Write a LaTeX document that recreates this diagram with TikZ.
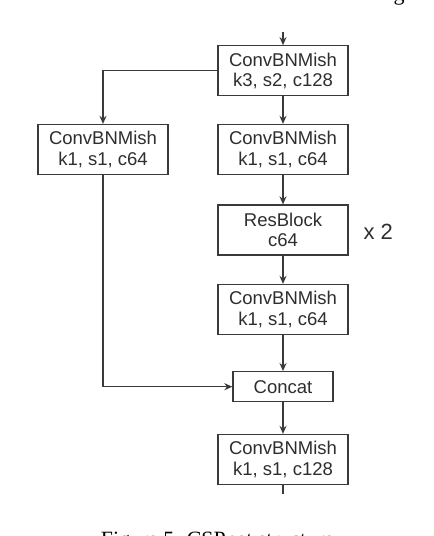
\documentclass[tikz,border=0pt]{standalone}
\usepackage{fontspec}
\setmainfont{Liberation Sans}
\newfontfamily\capfont{Liberation Serif}
\usetikzlibrary{arrows.meta}
\definecolor{lc}{HTML}{3A3A3A}
\definecolor{tc}{HTML}{2E2E2E}
\begin{document}
\begin{tikzpicture}[x=1pt,y=-1pt,
  blk/.style={draw=lc,line width=1.3pt,rectangle,minimum width=130pt,minimum height=50pt,inner sep=0pt,align=center,text=tc,font=\fontsize{18.5}{20.5}\selectfont},
  cblk/.style={blk,minimum width=100pt,minimum height=30pt},
  conn/.style={draw=lc,line width=1.3pt,-{Stealth[length=8pt,width=7pt]}},
  plain/.style={draw=lc,line width=1.3pt}]
\clip (0,0) rectangle (434,536);
\useasboundingbox (0,0) rectangle (434,536);
\fill[white] (0,0) rectangle (434,536);
\node[text=black,font=\capfont\fontsize{22}{24}\selectfont,anchor=base] (gtop) at (399,0) {g};
\coordinate (in) at (283,32);
\node[blk] (b1) at (283,70.8) {ConvBNMish\\k3, s2, c128};
\node[blk] (bl) at (103,149.5) {ConvBNMish\\k1, s1, c64};
\node[blk] (b2) at (283,149.5) {ConvBNMish\\k1, s1, c64};
\node[blk] (rb) at (283,230) {ResBlock\\c64};
\node[text=tc,font=\fontsize{22}{24}\selectfont,anchor=west] (x2) at (360,231.5) {x 2};
\node[blk] (b4) at (283,309.5) {ConvBNMish\\k1, s1, c64};
\node[cblk] (cc) at (283,386.7) {Concat};
\node[blk] (b6) at (283,459.5) {ConvBNMish\\k1, s1, c128};
\coordinate (out) at (283,494);
\node[font=\capfont\fontsize{21.8}{24}\selectfont,anchor=base,text=black] (cap) at (217.5,546) {Figure 5. CSPnet structure};
\draw[conn] (in) -- (b1.north);
\draw[conn] (b1.west) -| (bl.north);
\draw[conn] (b1) -- (b2);
\draw[conn] (b2) -- (rb);
\draw[conn] (rb) -- (b4);
\draw[conn] (b4) -- (cc);
\draw[conn] (bl.south) |- (cc.west);
\draw[conn] (cc) -- (b6);
\draw[plain] (b6.south) -- (out);
\end{tikzpicture}
\end{document}
